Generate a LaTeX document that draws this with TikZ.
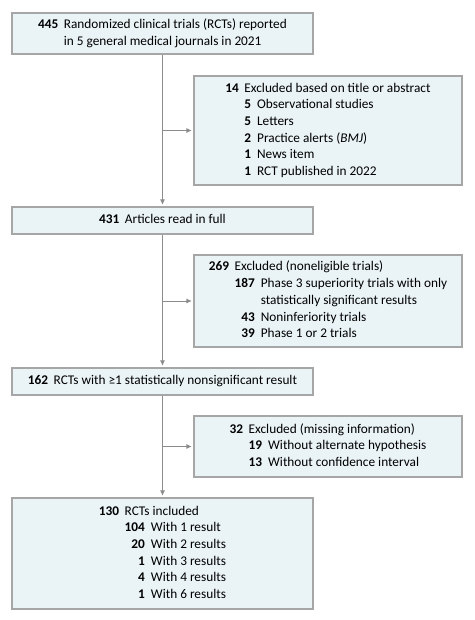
\documentclass[tikz,border=0pt]{standalone}
\usepackage{fontspec}
\setmainfont{Carlito}
\usetikzlibrary{arrows.meta}
\definecolor{boxfill}{HTML}{EAF3F6}
\definecolor{boxline}{HTML}{A6A6A6}
\definecolor{conn}{HTML}{8C8C8C}
\tikzset{
  flowbox/.style={draw=boxline, line width=1.3pt, fill=boxfill, inner sep=0pt},
  conline/.style={draw=conn, line width=0.9pt},
  conarrow/.style={conline, -{Triangle[length=5pt,width=4.5pt]}, shorten >=2pt},
}
\newcommand{\flowtxt}[1]{\fontsize{13.3}{16.7}\selectfont\begin{tabular}{@{}r@{\hspace{5.5pt}}r@{\hspace{6pt}}l@{}}#1\end{tabular}}
\begin{document}
\begin{tikzpicture}[x=1pt,y=-1pt]
\useasboundingbox (0,0) rectangle (474,620);
% boxes
\node[flowbox, minimum width=301pt, minimum height=41pt] (b1) at (162.5,33.5) {};
\node (t1) at (b1.center) {\flowtxt{\textbf{445} & \multicolumn{2}{@{}l@{}}{Randomized clinical trials (RCTs) reported}\\ & \multicolumn{2}{@{}l@{}}{in 5 general medical journals in 2021}}};
\node[flowbox, minimum width=268pt, minimum height=109pt] (b2) at (328,130.5) {};
\node (t2) at (b2.center) {\flowtxt{\textbf{14} & \multicolumn{2}{@{}l@{}}{Excluded based on title or abstract}\\ & \textbf{5} & Observational studies\\ & \textbf{5} & Letters\\ & \textbf{2} & Practice alerts (\textit{BMJ})\\ & \textbf{1} & News item\\ & \textbf{1} & RCT published in 2022}};
\node[flowbox, minimum width=301pt, minimum height=27pt] (b3) at (162.5,220.5) {};
\node (t3) at (b3.center) {\flowtxt{\textbf{431} & \multicolumn{2}{@{}l@{}}{Articles read in full}}};
\node[flowbox, minimum width=268pt, minimum height=92pt] (b4) at (328,301) {};
\node (t4) at (b4.center) {\flowtxt{\textbf{269} & \multicolumn{2}{@{}l@{}}{Excluded (noneligible trials)}\\ & \textbf{187} & Phase 3 superiority trials with only\\ & & statistically significant results\\ & \textbf{43} & Noninferiority trials\\ & \textbf{39} & Phase 1 or 2 trials}};
\node[flowbox, minimum width=301pt, minimum height=27pt] (b5) at (162.5,381.5) {};
\node (t5) at (b5.center) {\flowtxt{\textbf{162} & \multicolumn{2}{@{}l@{}}{RCTs with ≥1 statistically nonsignificant result}}};
\node[flowbox, minimum width=268pt, minimum height=61pt] (b6) at (328,446.5) {};
\node (t6) at (b6.center) {\flowtxt{\textbf{32} & \multicolumn{2}{@{}l@{}}{Excluded (missing information)}\\ & \textbf{19} & Without alternate hypothesis\\ & \textbf{13} & Without confidence interval}};
\node[flowbox, minimum width=301pt, minimum height=111pt] (b7) at (162.5,553.5) {};
\node (t7) at (b7.center) {\flowtxt{\textbf{130} & \multicolumn{2}{@{}l@{}}{RCTs included}\\ & \textbf{104} & With 1 result\\ & \textbf{20} & With 2 results\\ & \textbf{1} & With 3 results\\ & \textbf{4} & With 4 results\\ & \textbf{1} & With 6 results}};
% connectors
\coordinate (j1) at (b1.south |- b2.west);
\coordinate (j2) at (b3.south |- b4.west);
\coordinate (j3) at (b5.south |- b6.west);
\draw[conarrow] (b1.south) -- (b3.north);
\draw[conarrow] (j1) -- (b2.west);
\draw[conarrow] (b3.south) -- (b5.north);
\draw[conarrow] (j2) -- (b4.west);
\draw[conarrow] (b5.south) -- (b7.north);
\draw[conarrow] (j3) -- (b6.west);
\end{tikzpicture}
\end{document}
